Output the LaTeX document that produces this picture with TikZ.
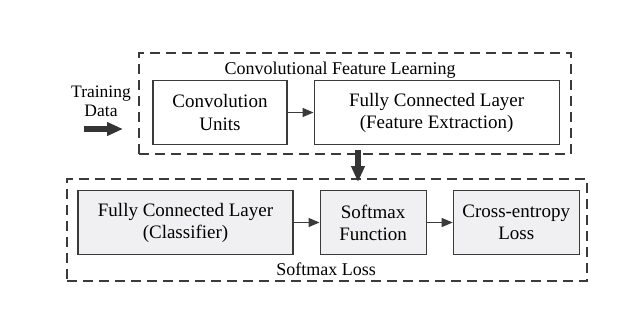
\documentclass[tikz,border=0pt]{standalone}
\usepackage{fontspec}
\setmainfont{Liberation Serif}
\usepackage{tikz}
\usetikzlibrary{positioning,arrows.meta}

\definecolor{linegray}{HTML}{3A3A3A}
\definecolor{boxfill}{HTML}{F0F0F2}

\begin{document}
\begin{tikzpicture}[
    x=1pt, y=-1pt,
    node distance=26pt,
    box/.style={rectangle, draw=linegray, line width=1.1pt, minimum height=64pt, align=center, inner sep=0pt, font=\fontsize{19}{22}\selectfont},
    graybox/.style={box, fill=boxfill},
    frame/.style={rectangle, draw=linegray, dashed, dash pattern=on 10pt off 6pt, line width=1.4pt},
    caption/.style={font=\fontsize{18}{21}\selectfont, inner sep=0pt},
    flow/.style={draw=linegray, line width=1.3pt, -{Triangle[length=11pt,width=9pt]}},
    bigflow/.style={draw=linegray!90!black, line width=5.5pt, -{Triangle[length=16pt,width=13pt]}}
]
\useasboundingbox (0,0) rectangle (631,321);

% Convolutional feature learning
\node[frame, minimum width=432pt, minimum height=101pt] (learn) at (355,103.5) {};
\node[caption, anchor=base] (learntitle) at (340,74.7) {Convolutional Feature Learning};
\node[box, minimum width=134pt] (conv) at (220,112.5) {Convolution\\Units};
\node[box, minimum width=245pt, right=of conv] (fcfeat) {Fully Connected Layer\\(Feature Extraction)};

% Softmax loss
\node[frame, minimum width=520pt, minimum height=102pt] (loss) at (327,230) {};
\node[caption, anchor=base] (losstitle) at (326,275) {Softmax Loss};
\node[graybox, minimum width=215pt] (fcclass) at (185.5,222.5) {Fully Connected Layer\\(Classifier)};
\node[graybox, minimum width=106pt, right=of fcclass] (softmax) {Softmax\\Function};
\node[graybox, minimum width=126pt, right=of softmax] (xent) {Cross-entropy\\Loss};

% Input
\node[font=\fontsize{17.5}{19}\selectfont, align=center, inner sep=0pt] (datalbl) at (101,101) {Training\\Data};
\coordinate (datain) at (84,129);
\coordinate (dataout) at (123,129);
\coordinate (learnout) at (358,150);
\coordinate (lossin) at (358,182);

% Arrows
\draw[flow] (conv) -- (fcfeat);
\draw[flow] (fcclass) -- (softmax);
\draw[flow] (softmax) -- (xent);
\draw[bigflow] (datain) -- (dataout);
\draw[bigflow] (learnout) -- (lossin);

\end{tikzpicture}
\end{document}
